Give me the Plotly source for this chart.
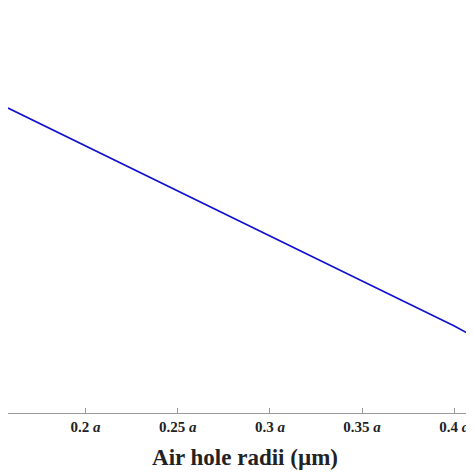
import plotly.graph_objects as go

radii = [0.158, 0.2, 0.25, 0.3, 0.35, 0.4, 0.415]
value = [305, 267, 222, 177, 132, 87, 72]
tick_vals = [0.15, 0.2, 0.25, 0.3, 0.35, 0.4]
tick_text = ["0.15 <i>a</i>", "0.2 <i>a</i>", "0.25 <i>a</i>", "0.3 <i>a</i>", "0.35 <i>a</i>", "0.4 <i>a</i>"]

fig = go.Figure()
fig.add_trace(go.Scatter(x=radii, y=value, mode="lines",
                         line=dict(color="#1010d0", width=1.6), showlegend=False))

fig.update_layout(
    width=474, height=474,
    margin=dict(l=0, r=0, t=0, b=69, autoexpand=False),
    plot_bgcolor="white", paper_bgcolor="white",
    font=dict(family="Liberation Serif", color="#222"),
    xaxis=dict(range=[0.158, 0.415], tickvals=tick_vals, ticktext=tick_text,
               automargin=False,
               showgrid=False, zeroline=False, showline=True, linecolor="#999",
               ticks="inside", ticklen=5, tickcolor="#999",
               tickfont=dict(size=15, family="Liberation Serif", weight="bold"),
               title=dict(text="<b>Air hole radii (µm)</b>", font=dict(size=23), standoff=14)),
    yaxis=dict(range=[0, 405], visible=False),
)

fig.write_html("out.html")
